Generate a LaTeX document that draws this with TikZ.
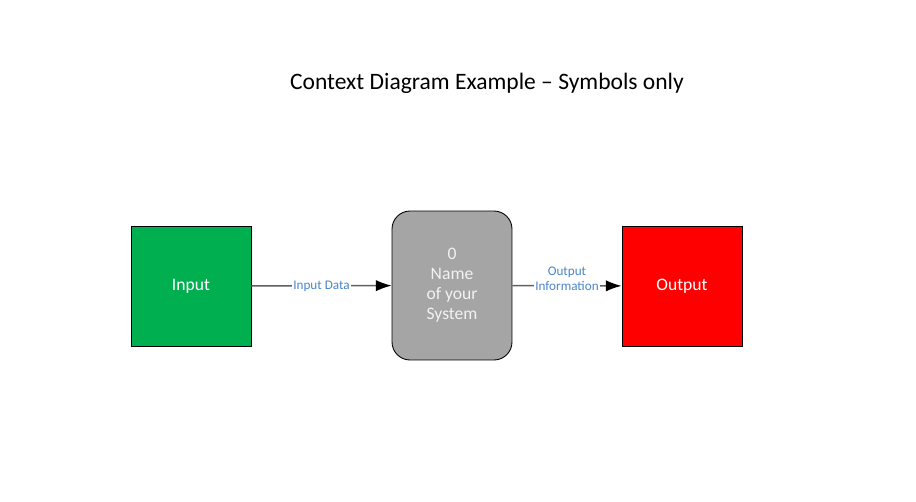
\documentclass[tikz,border=0pt]{standalone}
\usepackage{fontspec}
\setmainfont{Carlito}
\usetikzlibrary{arrows.meta,positioning}
\definecolor{InGreen}{HTML}{00B050}
\definecolor{OutRed}{HTML}{FF0000}
\definecolor{SysGray}{HTML}{A5A5A5}
\definecolor{SysText}{HTML}{F2F2F2}
\definecolor{FlowBlue}{HTML}{4A86C8}
\definecolor{Wire}{HTML}{606060}

\begin{document}
\begin{tikzpicture}[x=0.02cm,y=-0.02cm,
  ext/.style={draw=black,line width=0.5pt,minimum width=2.4cm,minimum height=2.4cm,
    text=white,font=\fontsize{10}{11.4}\selectfont},
  proc/.style={draw=black,line width=0.5pt,fill=SysGray,rounded corners=0.36cm,
    minimum width=2.4cm,minimum height=2.98cm,align=center,text=SysText,
    font=\fontsize{10}{11.4}\selectfont},
  flow/.style={draw=Wire,line width=0.8pt,-{Latex[length=9pt,width=6.5pt,color=black]}},
  elabel/.style={fill=white,inner sep=1pt,text=FlowBlue,font=\fontsize{7.5}{9}\selectfont}]
  \useasboundingbox (0,0) rectangle (916,501);
  \node[font=\fontsize{13.4}{16}\selectfont] (title) at (487,83) {Context Diagram Example -- Symbols only};
  % entities and process
  \node[ext,fill=InGreen] (input) at (191,286) {Input};
  \node[proc] (system) at (452,285.5) {0\\Name\\of your\\System};
  \node[ext,fill=OutRed] (output) at (682,286) {Output};
  % data flows
  \draw[flow] (input) -- node[elabel,yshift=-0.6pt] {Input Data} (system);
  \draw[flow] (system) -- node[elabel,align=center,yshift=4pt] {Output\\Information} (output);
\end{tikzpicture}
\end{document}
